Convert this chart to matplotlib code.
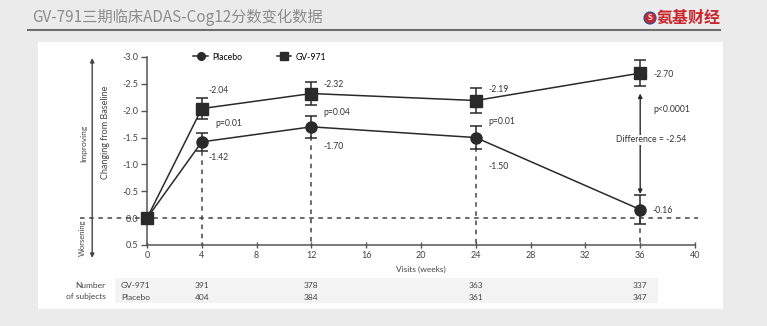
import matplotlib
matplotlib.use("Agg")
import matplotlib.pyplot as plt
from matplotlib.patches import Rectangle, Ellipse
from matplotlib.lines import Line2D

# ---------------- data ----------------
weeks = [0, 4, 12, 24, 36]
placebo = [0.0, -1.42, -1.70, -1.50, -0.16]
placebo_err = [0.0, 0.17, 0.21, 0.22, 0.27]
gv971 = [0.0, -2.04, -2.32, -2.19, -2.70]
gv971_err = [0.0, 0.19, 0.22, 0.23, 0.24]
placebo_labels = ["", "-1.42", "-1.70", "-1.50", "-0.16"]
gv971_labels = ["", "-2.04", "-2.32", "-2.19", "-2.70"]
p_values = ["p=0.01", "p=0.04", "p=0.01", "p<0.0001"]
difference_label = "Difference = -2.54"
table_weeks = [4, 12, 24, 36]
n_gv971 = [391, 378, 363, 337]
n_placebo = [404, 384, 361, 347]
xticks = list(range(0, 44, 4))
yticks = [-3.0, -2.5, -2.0, -1.5, -1.0, -0.5, 0.0, 0.5]
ytick_labels = ["-3.0", "-2.5", "-2.0", "-1.5", "-1.0", "-0.5", "0.0", "0.5"]
title = "GV-791三期临床ADAS-Cog12分数变化数据"
logo = "氨基财经"

# ---------------- figure ----------------
W, H = 767, 326
fig = plt.figure(figsize=(W / 100, H / 100), dpi=100)
fig.patch.set_facecolor("#ebebeb")
plt.rcParams["font.family"] = ["Lato", "DejaVu Sans"]

def fx(px):
    return px / W

def fy(py):
    return 1 - py / H

# white panel
fig.patches.append(Rectangle((fx(38), fy(309)), fx(723) - fx(38), fy(42) - fy(309),
                             transform=fig.transFigure, facecolor="white",
                             edgecolor="none", zorder=-2))
# table band
fig.patches.append(Rectangle((fx(115), fy(303)), fx(658) - fx(115), fy(278) - fy(303),
                             transform=fig.transFigure, facecolor="#f3f3f3",
                             edgecolor="none", zorder=-1))

# header
fig.text(fx(32), fy(17), title, fontsize=11, color="#8c8c8c", va="center", ha="left",
         family=["Noto Sans CJK SC", "DejaVu Sans"])
fig.add_artist(Line2D([fx(28), fx(720)], [fy(30), fy(30)], color="#6e6e6e", lw=1.5,
                      transform=fig.transFigure))
fig.patches.append(Ellipse((fx(650), fy(18)), 12 / W, 12 / H, transform=fig.transFigure,
                           facecolor="#c9252c", edgecolor="#1d4e9a", lw=0.8))
fig.text(fx(650), fy(18), "S", fontsize=6, color="white", ha="center", va="center",
         weight="bold")
fig.text(fx(657), fy(18), logo, fontsize=11.5, color="#c9252c", ha="left", va="center",
         weight="bold", family=["Noto Sans CJK SC", "DejaVu Sans"])

# axes
ax = fig.add_axes([fx(147), fy(245), fx(695) - fx(147), fy(57) - fy(245)])
ax.set_facecolor("none")
ax.set_xlim(0, 40)
ax.set_ylim(0.5, -3.0)
for s in ["top", "right"]:
    ax.spines[s].set_visible(False)
for s in ["left", "bottom"]:
    ax.spines[s].set_color("#555555")
    ax.spines[s].set_linewidth(1.1)
ax.set_xticks(xticks)
ax.set_yticks(yticks)
ax.set_yticklabels(ytick_labels)
ax.tick_params(axis="x", direction="inout", length=5, width=1, colors="#555555",
               labelsize=6.5, labelcolor="#444444", pad=2)
ax.tick_params(axis="y", direction="out", length=4, width=1, colors="#555555",
               labelsize=6.5, labelcolor="#444444", pad=2)
ax.set_xlabel("Visits (weeks)", fontsize=6, color="#444444", labelpad=4)
ax.set_ylabel("Changing from Baseline", fontsize=6.5, color="#444444")
ax.yaxis.set_label_coords(-0.068, 0.60)

line_col = "#2a2a2a"
dash = (0, (3, 3))

# horizontal dashed zero line
ax.plot([-4.9, 40.2], [0, 0], color="#444444", lw=1.1, linestyle=dash, clip_on=False, zorder=1)
# vertical dashed lines down from placebo points
for w, v in zip(weeks[1:], placebo[1:]):
    ax.plot([w, w], [v, 0.5], color="#444444", lw=1.1, linestyle=dash, zorder=1)

# series
ax.errorbar(weeks, placebo, yerr=placebo_err, color=line_col, lw=1.1, marker="o",
            markersize=8, capsize=4, elinewidth=1.1, capthick=1.1, zorder=3, clip_on=False)
ax.errorbar(weeks, gv971, yerr=gv971_err, color=line_col, lw=1.1, marker="s",
            markersize=8, capsize=4, elinewidth=1.1, capthick=1.1, zorder=4, clip_on=False)

# value labels
gv_off = [None, (12, 13), (16, 6.5), (16.5, 8), (17, -1)]
pl_off = [None, (12, -11.5), (16, -14), (16.5, -21), (16, -1)]
for w, v, t, o in zip(weeks, gv971, gv971_labels, gv_off):
    if t:
        ax.annotate(t, (w, v), xytext=o, textcoords="offset points", fontsize=6.2,
                    ha="center", va="center", color="#333333")
for w, v, t, o in zip(weeks, placebo, placebo_labels, pl_off):
    if t:
        ax.annotate(t, (w, v), xytext=o, textcoords="offset points", fontsize=6.2,
                    ha="center", va="center", color="#333333")

# p-values
p_pos = [(5.95, -1.77), (13.87, -1.96), (25.9, -1.79), (38.3, -2.02)]
for (px_, py_), t in zip(p_pos, p_values):
    ax.text(px_, py_, t, fontsize=6.2, ha="center", va="center", color="#333333")

# difference arrow at week 36
ax.annotate("", xy=(36, gv971[4] + 0.38), xytext=(36, placebo[4] - 0.29),
            arrowprops=dict(arrowstyle="<|-|>", color=line_col, lw=1.0,
                            mutation_scale=6, shrinkA=0, shrinkB=0), zorder=2)
ax.text(36.8, -1.46, difference_label, fontsize=6.2, ha="center", va="center",
        color="#333333", bbox=dict(facecolor="white", edgecolor="none", pad=0.5), zorder=5)

# left improving/worsening arrow
ax.annotate("", xy=(-4.0, -2.98), xytext=(-4.0, 0.74), xycoords="data",
            arrowprops=dict(arrowstyle="<|-|>", color="#444444", lw=1.0,
                            mutation_scale=6, shrinkA=0, shrinkB=0),
            annotation_clip=False)
ax.text(-4.65, -1.4, "Improving", rotation=90, fontsize=6, ha="center", va="center",
        color="#444444", clip_on=False)
ax.text(-4.7, 0.36, "Worsening", rotation=90, fontsize=5.5, ha="center", va="center",
        color="#444444", clip_on=False, bbox=dict(facecolor="white", edgecolor="none", pad=0.3))

# legend
handles = [Line2D([], [], color=line_col, lw=1.1, marker="o", markersize=5.5),
           Line2D([], [], color=line_col, lw=1.1, marker="s", markersize=5.5)]
ax.legend(handles, ["Placebo", "GV-971"], ncol=2, frameon=False, fontsize=6.2,
          loc="center", bbox_to_anchor=(0.206, 1.0), handlelength=1.7,
          handletextpad=0.5, columnspacing=4.0)

# subject table
trans = ax.get_xaxis_transform()
fig.text(fx(90), fy(285), "Number", fontsize=6, ha="center", va="center", color="#444444")
fig.text(fx(86), fy(297), "of subjects", fontsize=6, ha="center", va="center", color="#444444")
fig.text(fx(121), fy(285), "GV-971", fontsize=6, ha="left", va="center", color="#444444")
fig.text(fx(121), fy(297), "Placebo", fontsize=6, ha="left", va="center", color="#444444")
row1 = (fy(285) - fy(245)) / (fy(57) - fy(245))
row2 = (fy(297) - fy(245)) / (fy(57) - fy(245))
for w, a, b in zip(table_weeks, n_gv971, n_placebo):
    ax.text(w, row1, str(a), transform=trans, fontsize=6, ha="center", va="center",
            color="#444444", clip_on=False)
    ax.text(w, row2, str(b), transform=trans, fontsize=6, ha="center", va="center",
            color="#444444", clip_on=False)

fig.savefig("out.png", dpi=100, facecolor=fig.get_facecolor())
